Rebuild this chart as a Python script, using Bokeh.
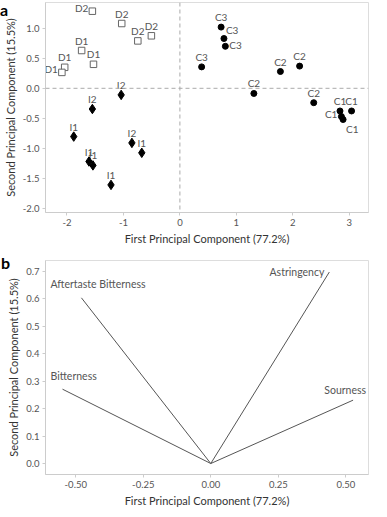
from bokeh.plotting import figure
from bokeh.layouts import column
from bokeh.models import ColumnDataSource, Span, FixedTicker, PrintfTickFormatter, Range1d, Div
from bokeh.core.properties import value
from bokeh.embed import file_html
from bokeh.resources import INLINE

FONT = "Lato"

# ---- panel a: PCA scores ----
d_x = [-1.55, -1.03, -0.745, -0.505, -1.74, -1.53, -2.04, -2.09]
d_y = [1.285, 1.08, 0.79, 0.875, 0.63, 0.40, 0.35, 0.265]
d_lab = ["D2", "D2", "D2", "D2", "D1", "D1", "D1", "D1"]

i_x = [-1.04, -1.55, -1.88, -0.85, -0.675, -1.61, -1.54, -1.22]
i_y = [-0.11, -0.345, -0.805, -0.91, -1.075, -1.22, -1.285, -1.61]
i_lab = ["I2", "I2", "I1", "I2", "I1", "I1", "I1", "I1"]

c_x = [0.73, 0.78, 0.805, 0.385, 1.78, 2.12, 1.31, 2.37, 2.835, 3.04, 2.86, 2.89]
c_y = [1.02, 0.83, 0.70, 0.357, 0.28, 0.37, -0.086, -0.24, -0.378, -0.378, -0.47, -0.52]
c_lab = ["C3", "C3", "C3", "C3", "C2", "C2", "C2", "C2", "C1", "C1", "C1", "C1"]

a_xticks = [-2, -1, 0, 1, 2, 3]
a_yticks = [-2.0, -1.5, -1.0, -0.5, 0.0, 0.5, 1.0]

# label placement styles (not data)
d_place = ["left", "above", "above", "above", "above", "above", "above", "left"]
i_place = ["above"] * 8
c_place = ["above", "upright", "right", "above", "above", "above", "above", "above",
           "above", "above", "left", "downright"]

# ---- panel b: loadings ----
attrs = ["Aftertaste Bitterness", "Bitterness", "Astringency", "Sourness"]
pc1 = [-0.479, -0.549, 0.439, 0.527]
pc2 = [0.604, 0.271, 0.698, 0.231]
b_xticks = [-0.50, -0.25, 0.00, 0.25, 0.50]
b_yticks = [0.0, 0.1, 0.2, 0.3, 0.4, 0.5, 0.6, 0.7]

TXT = "#555555"
AX = "#cccccc"


def style(p):
    p.outline_line_color = "#dddddd"
    p.grid.visible = False
    p.border_fill_color = None
    for ax in (p.xaxis, p.yaxis):
        ax.axis_line_color = AX
        ax.major_tick_line_color = AX
        ax.major_tick_in = 0
        ax.major_tick_out = 3
        ax.minor_tick_line_color = None
        ax.major_label_text_font = FONT
        ax.major_label_text_font_size = "9.5px"
        ax.major_label_text_color = TXT
        ax.axis_label_text_font = FONT
        ax.axis_label_text_font_size = "11px"
        ax.axis_label_text_font_style = "normal"
        ax.axis_label_text_color = "#333333"
    p.xaxis.axis_label_standoff = 3
    p.yaxis.axis_label_standoff = 3
    p.xaxis.major_label_standoff = 3
    p.yaxis.major_label_standoff = 3


def offsets(place):
    xo, yo, al, bl = [], [], [], []
    for pl in place:
        if pl == "above":
            xo.append(0); yo.append(-4); al.append("center"); bl.append("bottom")
        elif pl == "left":
            xo.append(-4); yo.append(-3); al.append("right"); bl.append("middle")
        elif pl == "right":
            xo.append(4); yo.append(-1); al.append("left"); bl.append("middle")
        elif pl == "upright":
            xo.append(2); yo.append(-3); al.append("left"); bl.append("bottom")
        elif pl == "downright":
            xo.append(3); yo.append(3); al.append("left"); bl.append("top")
    return xo, yo, al, bl


W = 371
p1 = figure(width=W, height=247, output_backend="svg", toolbar_location=None,
            x_range=Range1d(-2.38, 3.34), y_range=Range1d(-2.07, 1.43),
            min_border_left=36, min_border_right=3, min_border_top=2, min_border_bottom=0)
style(p1)
p1.xaxis.axis_label = "First Principal Component (77.2%)"
p1.yaxis.axis_label = "Second Principal Component (15.5%)"
p1.xaxis.ticker = FixedTicker(ticks=a_xticks)
p1.yaxis.ticker = FixedTicker(ticks=a_yticks)
p1.xaxis.formatter = PrintfTickFormatter(format="%d")
p1.yaxis.formatter = PrintfTickFormatter(format="%.1f")

p1.add_layout(Span(location=0, dimension="width", line_color="#aaaaaa", line_dash="4 3", line_width=1))
p1.add_layout(Span(location=0, dimension="height", line_color="#aaaaaa", line_dash="4 3", line_width=1))

for xs, ys, labs, place in ((d_x, d_y, d_lab, d_place), (i_x, i_y, i_lab, i_place), (c_x, c_y, c_lab, c_place)):
    xo, yo, al, bl = offsets(place)
    src = ColumnDataSource(dict(x=xs, y=ys, t=labs, xo=xo, yo=yo, al=al, bl=bl))
    p1.text(x="x", y="y", text="t", x_offset="xo", y_offset="yo", text_align="al",
            text_baseline="bl", source=src, text_font=value(FONT), text_font_size="10px",
            text_color=TXT)

p1.scatter(d_x, d_y, marker="square", size=6.5, fill_color="white", line_color="#666666", line_width=1)
p1.scatter(i_x, i_y, marker="diamond", size=9.5, fill_color="black", line_color="black")
p1.scatter(c_x, c_y, marker="circle", size=6, fill_color="black", line_color="black")

# ---- panel b ----
p2 = figure(width=W, height=282, output_backend="svg", toolbar_location=None,
            x_range=Range1d(-0.612, 0.584), y_range=Range1d(-0.04, 0.74),
            min_border_left=36, min_border_right=3, min_border_top=33, min_border_bottom=0,
            margin=(-20, 0, -8, 0))
style(p2)
p2.xaxis.axis_label = "First Principal Component (77.2%)"
p2.yaxis.axis_label = "Second Principal Component (15.5%)"
p2.xaxis.ticker = FixedTicker(ticks=b_xticks)
p2.yaxis.ticker = FixedTicker(ticks=b_yticks)
p2.xaxis.formatter = PrintfTickFormatter(format="%.2f")
p2.yaxis.formatter = PrintfTickFormatter(format="%.1f")

zeros = [0.0] * len(attrs)
p2.segment(x0=zeros, y0=zeros, x1=pc1, y1=pc2, line_color="#555555", line_width=1)

b_xo = [-31, -12, -5, 13]
b_yo = [-14, -13, 0, -10]
b_al = ["left", "left", "right", "right"]
src2 = ColumnDataSource(dict(x=pc1, y=pc2, t=attrs, xo=b_xo, yo=b_yo, al=b_al))
p2.text(x="x", y="y", text="t", x_offset="xo", y_offset="yo", text_align="al",
        text_baseline="middle", source=src2, text_font=value(FONT), text_font_size="10.5px",
        text_color=TXT)

lab_style = {"font-family": FONT, "font-size": "16px", "font-weight": "bold",
             "color": "black", "line-height": "16px", "overflow": "visible"}
div_a = Div(text='<span style="position:relative;top:2px;left:0px">a</span>',
            width=20, height=0, margin=(0, 0, 0, 0), styles=lab_style)
div_b = Div(text='<span style="position:relative;top:8px;left:1px">b</span>',
            width=20, height=0, margin=(0, 0, 0, 0), styles=lab_style)

layout = column(div_a, p1, div_b, p2, spacing=0)
open("out.html", "w").write(file_html(layout, INLINE))
